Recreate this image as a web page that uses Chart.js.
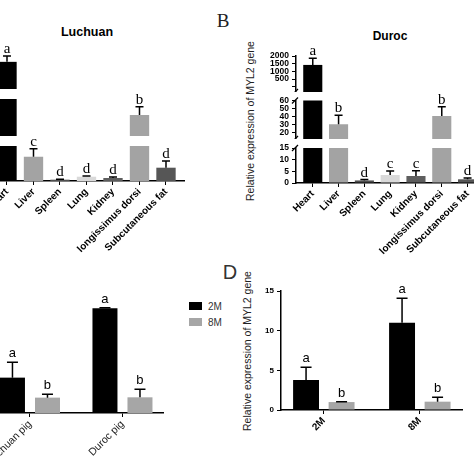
<!DOCTYPE html>
<html>
<head>
<meta charset="utf-8">
<title>MYL2 expression</title>
<script src="https://cdn.jsdelivr.net/npm/chart.js@4.4.1/dist/chart.umd.min.js"></script>
<style>
    html, body { margin: 0; padding: 0; background: #fff; }
    #fig { position: relative; width: 474px; height: 474px; overflow: hidden; font-family: 'Liberation Sans', Arial, sans-serif; }
    #fig canvas { position: absolute; }
    .txt { position: absolute; white-space: nowrap; transform: translate(-50%, -50%); line-height: 1; }
    .title { font-weight: bold; color: #000; }
    .ylab { font-size: 10.5px; color: #222; transform: translate(-50%, -50%) rotate(-90deg); }
    .panel { color: #222; }
    .legend { position: absolute; left: 189px; top: 298px; font-size: 10px; color: #333; }
    .legend div { height: 16px; display: flex; align-items: center; }
    .legend span.box { display: inline-block; width: 13px; height: 8px; margin-right: 6px; }
</style>
</head>
<body>
<div id="fig">
    <div class="txt title" style="left:87px; top:31.5px; font-size:12.5px;">Luchuan</div>
    <div class="txt title" style="left:390px; top:36px; font-size:12px;">Duroc</div>
    <div class="txt panel" style="left:223px; top:20px; font-family:'Liberation Serif', serif; font-size:19px;">B</div>
    <div class="txt panel" style="left:230px; top:272px; font-size:20px; color:#333;">D</div>
    <div class="txt ylab" style="left:249.5px; top:121px;">Relative expression of MYL2 gene</div>
    <div class="txt ylab" style="left:247px; top:350.5px;">Relative expression of MYL2 gene</div>
    <div class="legend" id="legendC"></div>
</div>

<script>
// ---- data ----
var organs = ['Heart', 'Liver', 'Spleen', 'Lung', 'Kidney', 'longissimus dorsi', 'Subcutaneous fat'];

var luchuanMean = [1435, 10.4, 0.56, 1.84, 1.29, 40.1, 5.7];
var luchuanSem  = [370, 3.4, 0.15, 0.3, 0.42, 10.2, 2.87];
var luchuanSig  = ['a', 'c', 'd', 'd', 'd', 'b', 'd'];

var durocMean = [1420, 30.3, 1.1, 3.43, 3.0, 40.7, 1.59];
var durocSem  = [430, 11.2, 0.35, 1.7, 2.27, 11.6, 0.55];
var durocSig  = ['a', 'b', 'd', 'c', 'c', 'b', 'd'];

// broken axis segments (tick values)
var topTicks = [0, 500, 1000, 1500, 2000];
var midTicks = [20, 30, 40, 50, 60];
var lowTicks = [0, 5, 10, 15];

var breeds = ['Luchuan pig', 'Duroc pig'];
var ages = ['2M', '8M'];
var breedMean2M = [2.30, 6.81];
var breedSem2M  = [1.0, 0.03];
var breedSig2M  = ['a', 'a'];
var breedMean8M = [1.0, 1.02];
var breedSem8M  = [0.22, 0.52];
var breedSig8M  = ['b', 'b'];

var ageMeanBlack = [3.78, 11.0];
var ageSemBlack  = [1.62, 3.1];
var ageSigBlack  = ['a', 'a'];
var ageMeanGray  = [1.0, 1.05];
var ageSemGray   = [0.05, 0.55];
var ageSigGray   = ['b', 'b'];
var ageTicks = [0, 5, 10, 15];

// ---- styles ----
var organColors = ['#000000', '#a3a3a3', '#4f4f4f', '#d9d9d9', '#5e5e5e', '#a3a3a3', '#565656'];
var sans = "'Liberation Sans', Arial, sans-serif";
var serif = "'Liberation Serif', 'Times New Roman', serif";

Chart.defaults.font.family = sans;
Chart.defaults.color = '#000';

var fig = document.getElementById('fig');

function mountCanvas(left, top, width, height) {
    var c = document.createElement('canvas');
    c.width = width;
    c.height = height;
    c.style.left = left + 'px';
    c.style.top = top + 'px';
    c.style.width = width + 'px';
    c.style.height = height + 'px';
    fig.appendChild(c);
    return c;
}

// keep axis sizes fixed so the plot areas land where the figure has them
function fixAxis(size) {
    return function(scale) {
        if (scale.isHorizontal()) {
            scale.height = size;
        } else {
            scale.width = size;
        }
        scale.paddingLeft = 0;
        scale.paddingRight = 0;
        scale.paddingTop = 0;
        scale.paddingBottom = 0;
    };
}

// error bar (upper half only) + significance letter on top of each bar
var sigBars = {
    id: 'sigBars',
    afterDatasetsDraw: function(chart, args, opts) {
        var ctx = chart.ctx;
        var y = chart.scales.y;
        chart.data.datasets.forEach(function(ds, d) {
            var meta = chart.getDatasetMeta(d);
            meta.data.forEach(function(bar, i) {
                var v = ds.data[i].y;
                if (v === null || v > y.max || v <= y.min) return;
                var yBar = y.getPixelForValue(v);
                var yTop = y.getPixelForValue(v + ds.sem[i]);
                ctx.save();
                ctx.strokeStyle = '#000';
                ctx.lineWidth = opts.lineWidth;
                ctx.beginPath();
                ctx.moveTo(bar.x, yBar);
                ctx.lineTo(bar.x, yTop);
                ctx.moveTo(bar.x - opts.cap / 2, yTop);
                ctx.lineTo(bar.x + opts.cap / 2, yTop);
                ctx.stroke();
                ctx.font = opts.font;
                ctx.fillStyle = '#000';
                ctx.textAlign = 'center';
                ctx.textBaseline = 'alphabetic';
                ctx.fillText(ds.sig[i], bar.x, yTop - opts.gap);
                ctx.restore();
            });
        });
    }
};

// little slashes where the y axis is broken
var axisBreaks = {
    id: 'axisBreaks',
    afterDraw: function(chart, args, opts) {
        if (!opts.at) return;
        var ctx = chart.ctx;
        var a = chart.chartArea;
        ctx.save();
        ctx.strokeStyle = '#000';
        ctx.lineWidth = 1.2;
        opts.at.forEach(function(edge) {
            var yy = edge === 'top' ? a.top : a.bottom;
            ctx.beginPath();
            ctx.moveTo(a.left - 4, yy + 3);
            ctx.lineTo(a.left + 2, yy - 3);
            ctx.stroke();
        });
        ctx.restore();
    }
};

function xAxis(o) {
    return {
        type: 'linear',
        display: o.show,
        min: o.min,
        max: o.max,
        offset: false,
        grid: { display: true, offset: false, drawOnChartArea: false, drawTicks: true, tickLength: 4, color: '#000', lineWidth: 1 },
        border: { display: true, color: '#000', width: 1.5 },
        ticks: {
            autoSkip: false,
            maxRotation: 45,
            minRotation: 45,
            padding: 1,
            color: o.color || '#000',
            font: o.font,
            callback: function(v) { return o.labels[v]; }
        },
        afterBuildTicks: function(scale) {
            scale.ticks = o.labels.map(function(_, i) { return { value: i }; });
        },
        afterFit: fixAxis(o.height)
    };
}

function yAxis(o) {
    return {
        type: 'linear',
        display: o.show,
        min: o.min,
        max: o.max,
        grid: { display: true, drawOnChartArea: false, drawTicks: true, tickLength: 4, color: '#000', lineWidth: 1 },
        border: { display: true, color: '#000', width: 1.5 },
        ticks: {
            autoSkip: false,
            padding: 3,
            color: '#000',
            font: { family: sans, size: o.fontSize || 8.5, weight: 'bold' },
            callback: o.label || function(v) { return v; }
        },
        afterBuildTicks: function(scale) {
            scale.ticks = o.ticks.map(function(v) { return { value: v }; });
        },
        afterFit: fixAxis(o.width)
    };
}

function makeChart(canvas, datasets, x, y, opts) {
    return new Chart(canvas, {
        type: 'bar',
        data: { datasets: datasets },
        options: {
            responsive: false,
            animation: false,
            devicePixelRatio: 1,
            layout: { padding: { top: opts.padTop, left: 0, right: 0, bottom: 0 } },
            plugins: {
                legend: { display: false },
                tooltip: { enabled: false },
                sigBars: opts.marks,
                axisBreaks: { at: opts.breaks || null }
            },
            scales: { x: x, y: y }
        },
        plugins: [sigBars, axisBreaks]
    });
}

// one broken-axis organ panel = three stacked charts
function organSeries(mean, sem, sig, above, base, pct) {
    return [{
        data: mean.map(function(v, i) { return { x: i, y: v > above ? v : null }; }),
        sem: sem,
        sig: sig,
        base: base,
        backgroundColor: organColors,
        barPercentage: pct,
        categoryPercentage: 1,
        clip: 0
    }];
}

var serifMarks = { font: '15px ' + serif, gap: 3, cap: 8, lineWidth: 1.5 };
var organFont = { family: sans, size: 10, weight: 'bold' };

// ---- A : Luchuan (y axis is outside the crop) ----
(function() {
    var xMin = -0.264, xMax = -0.264 + 185 / 26.5;
    var xTop = { show: false, min: xMin, max: xMax, labels: organs, font: organFont, height: 0 };
    var xLow = { show: true, min: xMin, max: xMax, labels: organs, font: organFont, height: 75 };

    makeChart(mountCanvas(0, 34, 185, 55), organSeries(luchuanMean, luchuanSem, luchuanSig, 60, -300, 0.73),
        xAxis(xTop), yAxis({ show: false, min: -300, max: 2000, ticks: topTicks, width: 0 }),
        { padTop: 19, marks: serifMarks });
    makeChart(mountCanvas(0, 87, 185, 49), organSeries(luchuanMean, luchuanSem, luchuanSig, 15, undefined, 0.73),
        xAxis(xTop), yAxis({ show: false, min: 14, max: 60, ticks: midTicks, width: 0 }),
        { padTop: 12, marks: serifMarks });
    makeChart(mountCanvas(0, 134, 185, 122), organSeries(luchuanMean, luchuanSem, luchuanSig, -1, undefined, 0.73),
        xAxis(xLow), yAxis({ show: false, min: 0, max: 15, ticks: lowTicks, width: 0 }),
        { padTop: 12, marks: serifMarks });
})();

// ---- B : Duroc ----
(function() {
    var xMin = -0.65, xMax = -0.65 + 185 / 25.8;
    var xTop = { show: false, min: xMin, max: xMax, labels: organs, font: organFont, height: 0 };
    var xLow = { show: true, min: xMin, max: xMax, labels: organs, font: organFont, height: 73 };

    makeChart(mountCanvas(251, 36, 230, 56), organSeries(durocMean, durocSem, durocSig, 60, -340, 0.74),
        xAxis(xTop),
        yAxis({ show: true, min: -340, max: 2000, ticks: topTicks, width: 45,
                label: function(v) { return v >= 500 ? v : ''; } }),
        { padTop: 20, marks: serifMarks, breaks: ['bottom'] });
    makeChart(mountCanvas(251, 89, 230, 50), organSeries(durocMean, durocSem, durocSig, 15, undefined, 0.74),
        xAxis(xTop), yAxis({ show: true, min: 12, max: 60, ticks: midTicks, width: 45 }),
        { padTop: 11.5, marks: serifMarks, breaks: ['top', 'bottom'] });
    makeChart(mountCanvas(251, 136, 230, 120), organSeries(durocMean, durocSem, durocSig, -1, undefined, 0.74),
        xAxis(xLow), yAxis({ show: true, min: 0, max: 15, ticks: lowTicks, width: 45 }),
        { padTop: 12, marks: serifMarks, breaks: ['top'] });
})();

// ---- C : by breed, 2M vs 8M ----
function pairSeries(label, mean, sem, sig, color, catPct, barPct) {
    return {
        label: label,
        data: mean.map(function(v, i) { return { x: i, y: v }; }),
        sem: sem,
        sig: sig,
        backgroundColor: color,
        categoryPercentage: catPct,
        barPercentage: barPct,
        clip: 0
    };
}

var sansMarks = { font: '13px ' + sans, gap: 5, cap: 11, lineWidth: 1.5 };

var chartC = makeChart(mountCanvas(0, 280, 164, 194),
    [pairSeries('2M', breedMean2M, breedSem2M, breedSig2M, '#000000', 0.757, 0.714),
     pairSeries('8M', breedMean8M, breedSem8M, breedSig8M, '#a6a6a6', 0.757, 0.714)],
    xAxis({ show: true, min: -0.324, max: -0.324 + 164 / 92.5, labels: breeds,
            font: { family: sans, size: 10.5 }, color: '#222', height: 61 }),
    yAxis({ show: false, min: 0, max: 8, ticks: [0, 2, 4, 6, 8], width: 0 }),
    { padTop: 10, marks: sansMarks });

// legend for C built from its datasets
var legendC = document.getElementById('legendC');
chartC.data.datasets.forEach(function(ds) {
    var row = document.createElement('div');
    row.innerHTML = '<span class="box" style="background:' + ds.backgroundColor + '"></span>' + ds.label;
    legendC.appendChild(row);
});

// ---- D : by age ----
makeChart(mountCanvas(251, 280, 212, 170),
    [pairSeries('Luchuan pig', ageMeanBlack, ageSemBlack, ageSigBlack, '#000000', 0.74, 0.73),
     pairSeries('Duroc pig', ageMeanGray, ageSemGray, ageSigGray, '#a6a6a6', 0.74, 0.73)],
    xAxis({ show: true, min: -0.446, max: -0.446 + 182 / 96, labels: ages,
            font: { family: sans, size: 10, weight: 'bold' }, height: 40 }),
    yAxis({ show: true, min: 0, max: 15, ticks: ageTicks, width: 30, fontSize: 8 }),
    { padTop: 11, marks: sansMarks });
</script>
</body>
</html>
